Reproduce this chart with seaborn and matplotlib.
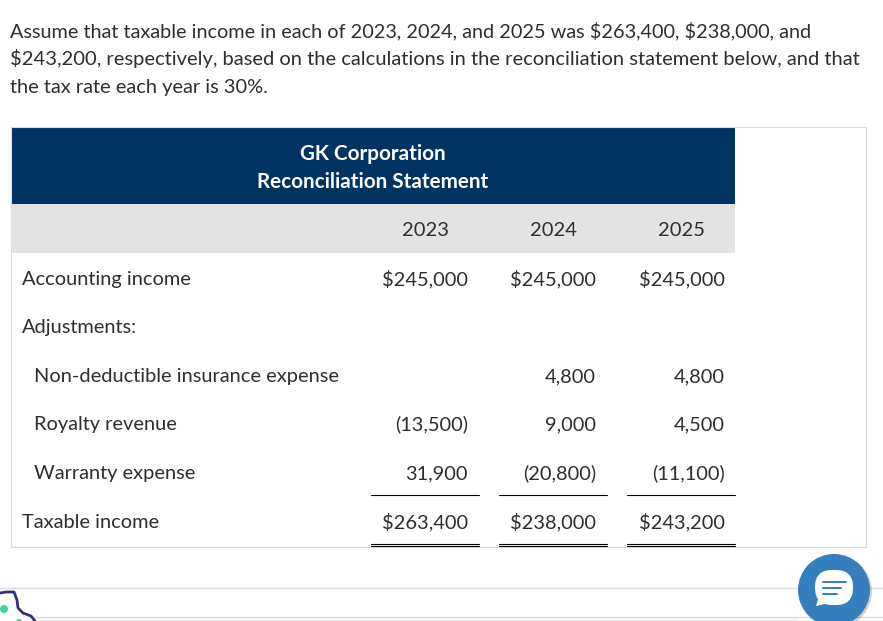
import numpy as np
import pandas as pd
import matplotlib.pyplot as plt
from matplotlib.patches import Circle, FancyBboxPatch, Polygon
import seaborn as sns

W, H = 883, 621

intro_lines = [
    'Assume that taxable income in each of 2023, 2024, and 2025 was $263,400, $238,000, and',
    '$243,200, respectively, based on the calculations in the reconciliation statement below, and that',
    'the tax rate each year is 30%.',
]
title_lines = ['GK Corporation', 'Reconciliation Statement']
years = ['2023', '2024', '2025']
row_labels = ['Accounting income', 'Adjustments:', 'Non-deductible insurance expense',
              'Royalty revenue', 'Warranty expense', 'Taxable income']
col_2023 = ['$245,000', '', '', '(13,500)', '31,900', '$263,400']
col_2024 = ['$245,000', '', '4,800', '9,000', '(20,800)', '$238,000']
col_2025 = ['$245,000', '', '4,800', '4,500', '(11,100)', '$243,200']

table = pd.DataFrame({'2023': col_2023, '2024': col_2024, '2025': col_2025}, index=row_labels)

sns.set_theme(style='white')
plt.rcParams['font.family'] = ['Lato', 'DejaVu Sans']

TXT = '#2e2e2e'
NAVY = '#003361'
GREY = '#e3e3e3'
EDGE = '#dcdcdc'
BLUE = '#367fbf'

fig = plt.figure(figsize=(W / 100, H / 100), dpi=100, facecolor='white')


def band(x0, y0, x1, y1, color):
    # one-cell heatmap placed by pixel box
    a = fig.add_axes([x0 / W, 1 - y1 / H, (x1 - x0) / W, (y1 - y0) / H])
    sns.heatmap(np.zeros((1, 1)), cmap=[color], cbar=False, xticklabels=False,
                yticklabels=False, ax=a)


band(11.5, 127.5, 735, 204, NAVY)
band(11.5, 204, 735, 253, GREY)

ax = fig.add_axes([0, 0, 1, 1])
ax.set_xlim(0, W)
ax.set_ylim(H, 0)
ax.axis('off')
ax.patch.set_alpha(0)

# intro paragraph
for y, line, fs in zip([37, 65, 93], intro_lines, [14.33, 14.48, 14.45]):
    ax.text(10, y, line, fontsize=fs, color=TXT, va='baseline', parse_math=False)

# table frame
ax.plot([11, 866, 866, 11, 11], [127, 127, 547, 547, 127], color=EDGE, lw=0.8, zorder=1)

for y, line in zip([160, 188], title_lines):
    ax.text(373, y, line, fontsize=14.9, color='white', fontweight='bold', ha='center', va='baseline')

col_center = [425.5, 553.5, 681.5]
col_right = [468, 596, 725]
rule_left = [371, 499, 627]
rule_right = [479, 607, 735]
row_base = [285, 333, 382, 430, 479, 528]
label_x = [22, 22, 34, 34, 34, 22]

for cx, yr in zip(col_center, years):
    ax.text(cx, 236, yr, fontsize=14.5, color=TXT, ha='center', va='baseline')

for i, lab in enumerate(table.index):
    ax.text(label_x[i], row_base[i], lab, fontsize=14.45, color=TXT, va='baseline')
    for j, yr in enumerate(table.columns):
        ax.text(col_right[j], row_base[i], table.loc[lab, yr], fontsize=14.4, color=TXT,
                ha='right', va='baseline', parse_math=False)

for l, r in zip(rule_left, rule_right):
    ax.plot([l, r], [495, 495], color='black', lw=0.8)
    ax.plot([l, r], [544, 544], color='black', lw=0.8)
    ax.plot([l, r], [546, 546], color='black', lw=0.8)

# page rules at the bottom
ax.plot([0, W], [588, 588], color=EDGE, lw=1, zorder=1)
ax.plot([35, W], [617, 617], color=EDGE, lw=1, zorder=1)
ax.fill_between([35, 798], 618, 621, color='#f6f6f6', zorder=0, lw=0)

# logo scrap, bottom left
ax.plot([0, 6, 14, 17, 18, 23, 31, 35], [593, 592, 592, 600, 608, 613, 616, 621],
        color='#36307a', lw=2.0, solid_capstyle='round', zorder=3)
ax.add_patch(Circle((4, 609), 4, color='#3ed39b', lw=0, zorder=3))
ax.add_patch(Circle((19, 622), 3, color='#3ed39b', lw=0, zorder=3))

# chat button
ax.add_patch(Circle((835.5, 591.5), 36.5, color='black', alpha=0.18, lw=0, zorder=4))
ax.add_patch(Circle((834, 590), 36, color=BLUE, lw=0, zorder=5))
ax.add_patch(FancyBboxPatch((815, 570), 38, 35, boxstyle='round,pad=0,rounding_size=17',
                            fc='white', ec='none', zorder=6))
ax.add_patch(Polygon([[819, 596], [816, 606], [829, 603]], fc='white', ec='none', zorder=6))
for y, x0, x1 in [(582, 823, 846), (588, 823, 841), (594, 823, 837)]:
    ax.plot([x0, x1], [y, y], color=BLUE, lw=1.4, solid_capstyle='round', zorder=7)

fig.savefig('out.png', dpi=100)
